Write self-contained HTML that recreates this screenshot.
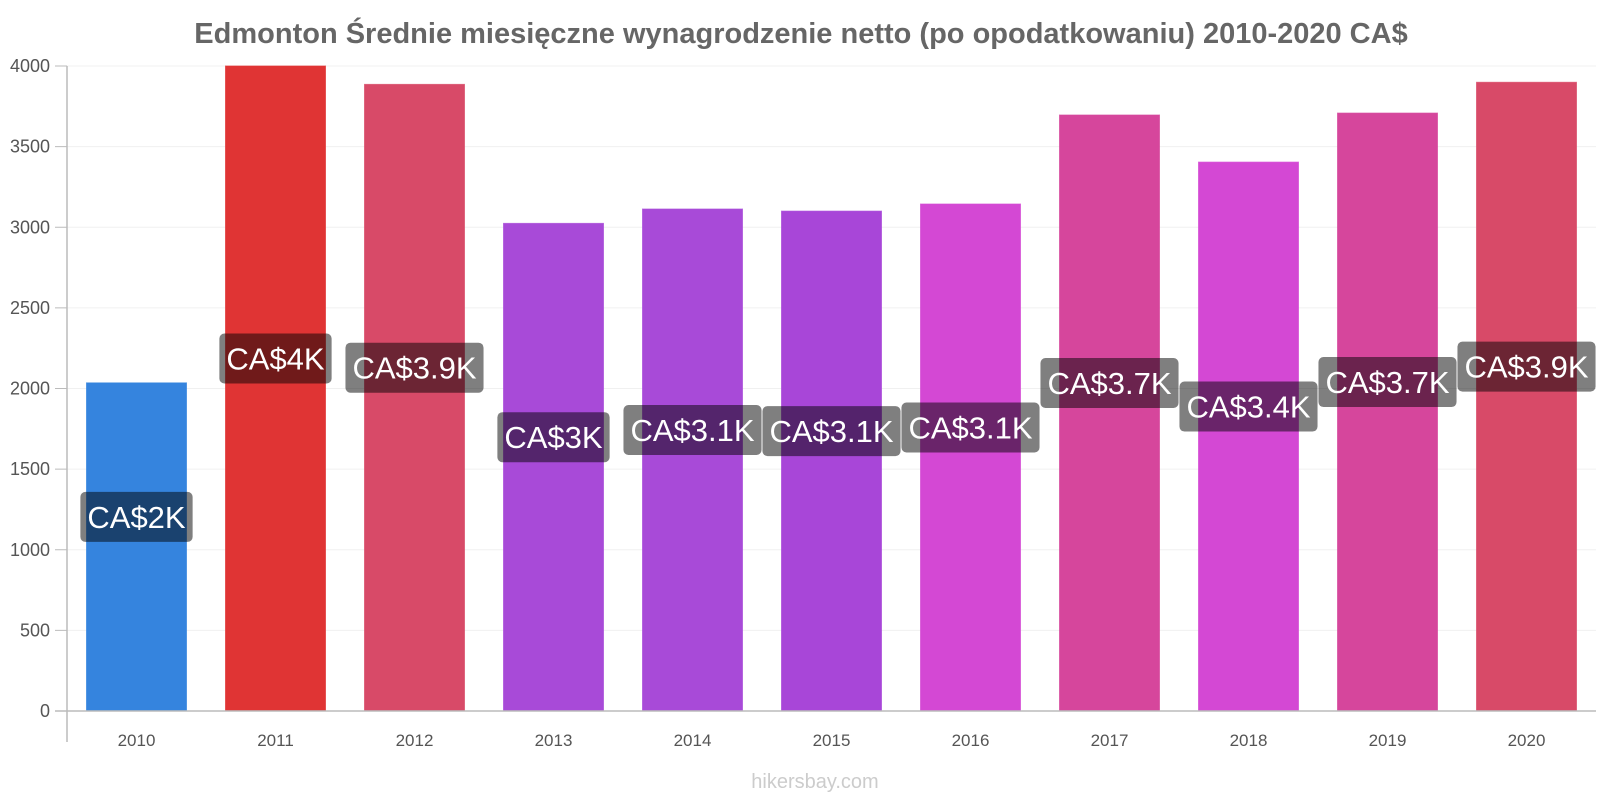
<!DOCTYPE html>
<html><head><meta charset="utf-8"><style>
body{margin:0;background:#fff;width:1600px;height:800px;overflow:hidden}
svg{font-family:"Liberation Sans",sans-serif}
</style></head><body>
<svg id="chart" width="1600" height="800" viewBox="0 0 1600 800">
<text x="801" y="43" text-anchor="middle" font-size="29" font-weight="bold" fill="#666">Edmonton Średnie miesięczne wynagrodzenie netto (po opodatkowaniu) 2010-2020 CA$</text>
<g id="grid"></g>
<g id="bars"></g>
<g id="labels"></g>
<g id="axes"></g>
<text x="815" y="788" text-anchor="middle" font-size="20" fill="#ccc">hikersbay.com</text>
</svg>
<script>
const categories=["2010","2011","2012","2013","2014","2015","2016","2017","2018","2019","2020"];
const values=[2035,4000,3886,3024,3113,3100,3144,3696,3404,3708,3899];
const valueLabels=["CA$2K","CA$4K","CA$3.9K","CA$3K","CA$3.1K","CA$3.1K","CA$3.1K","CA$3.7K","CA$3.4K","CA$3.7K","CA$3.9K"];
const colors=["#3584de","#e03434","#d84a68","#a84ad8","#a84ad8","#a846d8","#d448d4","#d6469c","#d448d4","#d6469c","#d84a68"];
const yTicks=[0,500,1000,1500,2000,2500,3000,3500,4000];
const NS="http://www.w3.org/2000/svg";
const x0=67,band=139,y0=711,yTop=66,yMax=4000;
const y=v=>y0-(v/yMax)*(y0-yTop);
const xc=i=>x0+band*i+band/2;
function mk(tag,attrs,parent){const e=document.createElementNS(NS,tag);for(const k in attrs)e.setAttribute(k,attrs[k]);parent.appendChild(e);return e;}
const grid=document.getElementById('grid'),bars=document.getElementById('bars'),labels=document.getElementById('labels'),axes=document.getElementById('axes');
yTicks.forEach(t=>{
  const l=mk('line',{x1:x0,x2:1596,y1:y(t),y2:y(t),stroke:'#f0f0f0'},grid);
  
  
  const tx=mk('text',{x:50,y:y(t)+6,'text-anchor':'end','font-size':18,fill:'#555'},axes);
  tx.textContent=t;
  
  
  const tk=mk('line',{x1:55,x2:x0,y1:y(t),y2:y(t),stroke:'#bbb'},axes);
  
  
});
categories.forEach((c,i)=>{
  const v=values[i];
  const r=mk('rect',{x:xc(i)-50,y:y(v),width:100,height:y0-y(v),fill:colors[i],stroke:colors[i],'stroke-opacity':0.7},bars);
  
  
  const tx=mk('text',{x:xc(i),y:746,'text-anchor':'middle','font-size':17,fill:'#555'},axes);
  tx.textContent=c;
  
  
  const cy=(y(v)+y0)/2-30;
  const g=mk('g',{},labels);
  
  
  const t=mk('text',{x:xc(i),y:cy+11,'text-anchor':'middle','font-size':31,fill:'#fff'},g);
  t.textContent=valueLabels[i];
  const w=t.getComputedTextLength()+14;
  const bg=mk('rect',{x:xc(i)-w/2,y:cy-25,width:w,height:50,rx:5,fill:'rgba(0,0,0,0.5)'},g);
  g.insertBefore(bg,t);
});
const ax=mk('line',{x1:x0,x2:x0,y1:yTop,y2:742,stroke:'#bbb','stroke-width':1.5},axes);


const bx=mk('line',{x1:55,x2:1596,y1:y0,y2:y0,stroke:'#bbb','stroke-width':1.5},axes);


</script>
</body></html>
